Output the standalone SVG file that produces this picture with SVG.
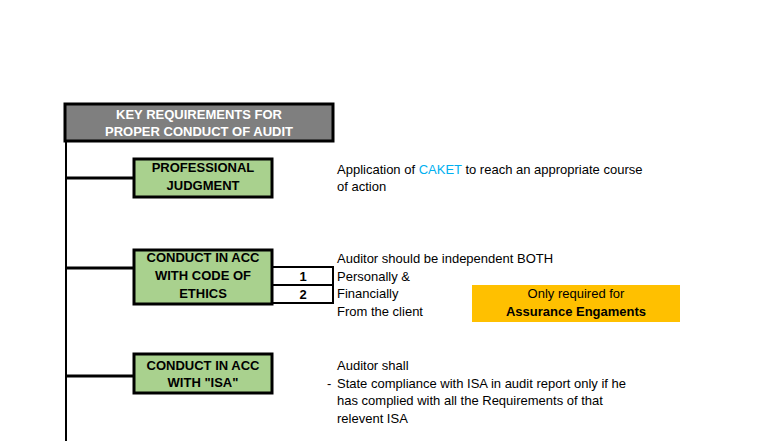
<svg xmlns="http://www.w3.org/2000/svg" width="784" height="441" viewBox="0 0 784 441">
<style>
text{font-family:"Liberation Sans",Arial,sans-serif;font-size:13px}
.b{font-weight:bold;text-anchor:middle}
.g{fill:#a9d18e;stroke:#000;stroke-width:3}
.w{fill:#fff;stroke:#000;stroke-width:2}
</style>
<rect width="784" height="441" fill="#fff"/>
<g id="connectors" stroke="#000" stroke-width="3" fill="none">
<line x1="66" y1="141" x2="66" y2="441" stroke-width="2"/>
<line x1="66" y1="178" x2="134" y2="178"/>
<line x1="66" y1="268" x2="134" y2="268"/>
<line x1="66" y1="376" x2="134" y2="376"/>
</g>
<g id="header">
<rect x="65" y="104" width="268" height="37" fill="#7f7f7f" stroke="#000" stroke-width="3"/>
<text x="199" y="119" class="b" fill="#fff">KEY REQUIREMENTS FOR</text>
<text x="199" y="136" class="b" fill="#fff">PROPER CONDUCT OF AUDIT</text>
</g>
<g id="pj">
<rect x="134" y="159" width="138" height="38" class="g"/>
<text x="203" y="172" class="b">PROFESSIONAL</text>
<text x="203" y="190" class="b">JUDGMENT</text>
<text x="337" y="174">Application of <tspan fill="#00b0f0">CAKET</tspan> to reach an appropriate course</text>
<text x="337" y="191">of action</text>
</g>
<g id="ethics">
<rect x="272" y="267" width="61" height="18" class="w"/>
<rect x="272" y="285" width="61" height="18" class="w"/>
<text x="303" y="281" class="b">1</text>
<text x="303" y="299" class="b">2</text>
<rect x="134" y="250" width="138" height="54" class="g"/>
<text x="203" y="262" class="b">CONDUCT IN ACC</text>
<text x="203" y="280" class="b">WITH CODE OF</text>
<text x="203" y="298" class="b">ETHICS</text>
<text x="337" y="263">Auditor should be independent BOTH</text>
<text x="337" y="281">Personally &amp;</text>
<text x="337" y="298">Financially</text>
<text x="337" y="316">From the client</text>
</g>
<g id="assurance">
<rect x="472" y="285" width="208" height="37" fill="#ffc000"/>
<text x="576" y="298" style="text-anchor:middle">Only required for</text>
<text x="576" y="316" class="b">Assurance Engaments</text>
</g>
<g id="isa">
<rect x="134" y="354" width="138" height="39" class="g"/>
<text x="203" y="370" class="b">CONDUCT IN ACC</text>
<text x="203" y="387" class="b">WITH "ISA"</text>
<text x="337" y="370">Auditor shall</text>
<text x="327" y="388">-</text>
<text x="337" y="388">State compliance with ISA in audit report only if he</text>
<text x="337" y="405">has complied with all the Requirements of that</text>
<text x="337" y="423">relevent ISA</text>
</g>
</svg>
